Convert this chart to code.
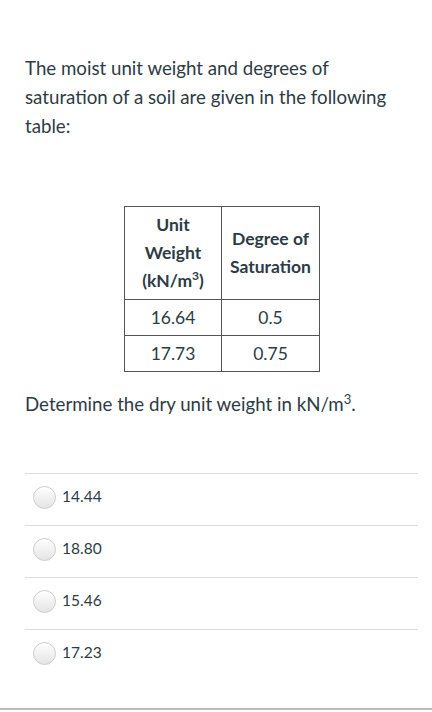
<!DOCTYPE html>
<html>
<head>
<meta charset="utf-8">
<script src="https://cdn.jsdelivr.net/npm/chart.js@4/dist/chart.umd.min.js"></script>
<style>
body{margin:0;width:432px;height:712px;background:#fff;font-family:Lato,"Open Sans",sans-serif;color:#2d3b45;position:relative;overflow:hidden}
#q{position:absolute;left:25px;top:54px;width:380px;font-size:18.7px;line-height:29px}
table{position:absolute;left:124px;top:206px;border-collapse:collapse;font-size:17.5px;color:#2d3b45}
td,th{border:1px solid #555;text-align:center;padding:0}
th{font-weight:bold;line-height:28px}
td{height:35px}
#det{position:absolute;left:25px;top:391px;font-size:18.7px}
.opt{position:absolute;left:25px;width:393px;height:51px;border-top:1px solid #ddd;font-size:15.5px}
.opt .r{position:absolute;left:8px;top:12px;width:21px;height:21px;border-radius:50%;border:1px solid #ccc;background:linear-gradient(#fff,#e4e4e4)}
.opt span{position:absolute;left:37px;top:13px}
#bot{position:absolute;left:0;top:708px;width:432px;border-top:2px solid #bbb}
</style>
</head>
<body>
<div id="q">The moist unit weight and degrees of saturation of a soil are given in the following table:</div>
<table id="t"></table>
<div id="det">Determine the dry unit weight in kN/m<sup style="font-size:13px">3</sup>.</div>
<div id="opts"></div>
<div id="bot"></div>
<script>
const unitWeight = ['16.64', '17.73']
const saturation = ['0.5', '0.75']
const choices = ['14.44', '18.80', '15.46', '17.23']

function build(){
    let html = '<tr><th style="width:96px;height:92px">Unit<br>Weight<br>(kN/m<sup style="font-size:12px;line-height:0">3</sup>)</th>' +
        '<th style="width:97px">Degree of<br>Saturation</th></tr>';
    for(let i = 0; i < unitWeight.length; i++){
        html += '<tr><td>' + unitWeight[i] + '</td><td>' + saturation[i] + '</td></tr>';
    }
    document.getElementById('t').innerHTML = html;
    let o = '';
    for(let i = 0; i < choices.length; i++){
        o += '<div class="opt" style="top:' + (473 + i * 52) + 'px"><div class="r"></div><span>' + choices[i] + '</span></div>';
    }
    document.getElementById('opts').innerHTML = o;
}
build();
</script>
</body>
</html>
